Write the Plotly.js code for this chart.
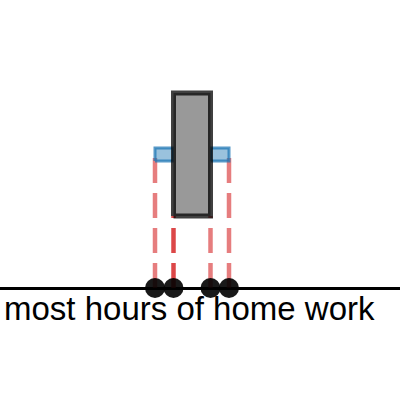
<!DOCTYPE html>
<html>
<head>
<meta charset="utf-8">
<script src="https://cdn.plot.ly/plotly-3.0.1.min.js"></script>
<style>
  html, body { margin: 0; padding: 0; background: #fff; }
  #graph { width: 400px; height: 400px; }
</style>
</head>
<body>
<div id="graph"></div>
<script>
// five-number summary on the number line (hours)
var minVal = 1;
var q1Val = 2;
var q3Val = 4;
var maxVal = 5;
var dotValues = [minVal, q1Val, q3Val, maxVal];
var label = 'most hours of home work';

// heights of the drawing above the number line
var boxBottom = 7.2;
var boxTop = 19.5;
var whiskLo = 12.7;
var whiskHi = 14.0;
var whiskMid = (whiskLo + whiskHi) / 2;

var red = 'rgba(214,39,40,0.6)';
var redDark = 'rgba(214,39,40,0.85)';

function dashed(x, top, color) {
    return {
        x: [x, x],
        y: [0, top],
        mode: 'lines',
        type: 'scatter',
        line: {color: color, width: 4.5, dash: '25px,10px'},
        hoverinfo: 'skip'
    };
}

function whisker(a, b) {
    return {
        x: [a, b, b, a, a],
        y: [whiskLo, whiskLo, whiskHi, whiskHi, whiskLo],
        mode: 'lines',
        type: 'scatter',
        fill: 'toself',
        fillcolor: 'rgba(31,119,180,0.45)',
        line: {color: 'rgba(31,119,180,0.75)', width: 3},
        hoverinfo: 'skip'
    };
}

var data = [
    dashed(minVal, whiskMid, red),
    dashed(q1Val, boxBottom, redDark),
    dashed(q3Val, boxBottom, red),
    dashed(maxVal, whiskMid, red),
    whisker(minVal, q1Val),
    whisker(q3Val, maxVal),
    {
        x: [q1Val, q3Val, q3Val, q1Val, q1Val],
        y: [boxBottom, boxBottom, boxTop, boxTop, boxBottom],
        mode: 'lines',
        type: 'scatter',
        fill: 'toself',
        fillcolor: '#999999',
        line: {color: 'rgba(0,0,0,0.75)', width: 5},
        hoverinfo: 'skip'
    },
    {
        x: dotValues,
        y: dotValues.map(function () { return 0; }),
        mode: 'markers',
        type: 'scatter',
        marker: {color: 'rgba(0,0,0,0.9)', size: 20},
        hoverinfo: 'skip'
    }
];

var scale = 18.5; // px per hour
var x0 = minVal - 155 / scale;

var layout = {
    width: 400,
    height: 400,
    margin: {l: 0, r: 0, t: 0, b: 0},
    paper_bgcolor: '#fff',
    plot_bgcolor: '#fff',
    showlegend: false,
    xaxis: {
        range: [x0, x0 + 400 / scale],
        showgrid: false,
        zeroline: false,
        showticklabels: false,
        ticks: ''
    },
    yaxis: {
        range: [-11.2, 28.8],
        showgrid: false,
        zeroline: true,
        zerolinecolor: '#000',
        zerolinewidth: 3,
        showticklabels: false,
        ticks: ''
    },
    annotations: [{
        text: label,
        xref: 'paper',
        x: 0,
        xanchor: 'left',
        xshift: 2,
        yref: 'y',
        y: -2.0,
        yanchor: 'middle',
        showarrow: false,
        font: {family: 'Liberation Sans, Arial, sans-serif', size: 33, color: '#000'}
    }]
};

Plotly.newPlot('graph', data, layout, {staticPlot: true});
</script>
</body>
</html>
